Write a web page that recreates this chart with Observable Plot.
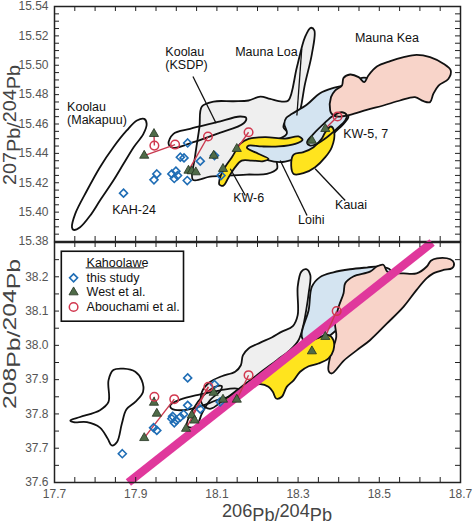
<!DOCTYPE html>
<html><head><meta charset="utf-8">
<script src="https://cdn.jsdelivr.net/npm/d3@7"></script>
<script src="https://cdn.jsdelivr.net/npm/@observablehq/plot@0.6"></script>
<style>
body{margin:0;background:#fff;}
#chart svg{display:block;}
</style></head><body><div id="chart"></div>
<script>
// ---------- tick labels ----------
const xTickLabels = [17.7, 17.9, 18.1, 18.3, 18.5, 18.7];
const yTickLabelsTop = [15.38, 15.40, 15.42, 15.44, 15.46, 15.48, 15.50, 15.52, 15.54];
const yTickLabelsBottom = [37.6, 37.7, 37.8, 37.9, 38.0, 38.1, 38.2];

// ---------- Kahoolawe samples, top panel (206Pb/204Pb, 207Pb/204Pb) ----------
const thisStudyTop = [[17.870,15.4129],[17.945,15.4220],[17.952,15.4260],[17.989,15.4260],[17.999,15.4279],[18.003,15.4249],[17.995,15.4229],[18.010,15.4374],[18.019,15.4369],[18.028,15.4471],[18.027,15.4215],[18.059,15.4347],[18.094,15.4385],[18.110,15.4249]];
const westTop = [[17.921,15.4385],[17.945,15.4533],[18.030,15.4283],[18.038,15.4279],[18.048,15.4272],[18.092,15.4385],[18.115,15.4295],[18.149,15.4431],[18.334,15.4487],[18.367,15.4567]];
const abouchamiTop = [[17.946,15.4453],[17.997,15.4460],[18.078,15.4515],[18.178,15.4544],[18.397,15.4651]];
const pairsTop = [[17.921,15.4385,17.997,15.4460],[17.945,15.4533,17.946,15.4453],[18.030,15.4283,18.078,15.4515],[18.149,15.4431,18.178,15.4544],[18.367,15.4567,18.397,15.4651]];

// ---------- Kahoolawe samples, bottom panel (206Pb/204Pb, 208Pb/204Pb) ----------
const thisStudyBottom = [[17.867,37.684],[17.944,37.760],[17.952,37.752],[17.989,37.786],[18.000,37.781],[18.010,37.791],[17.995,37.774],[18.018,37.799],[18.028,37.825],[18.028,37.905],[18.059,37.814],[18.094,37.886],[18.108,37.835],[17.991,37.793]];
const westBottom = [[17.921,37.730],[17.945,37.833],[17.952,37.801],[18.024,37.757],[18.038,37.796],[18.045,37.781],[18.092,37.862],[18.115,37.842],[18.149,37.842],[18.334,37.983],[18.367,38.025]];
const abouchamiBottom = [[17.946,37.850],[17.995,37.843],[18.079,37.879],[18.178,37.913],[18.395,38.100]];
const pairsBottom = [[17.921,37.730,17.995,37.843],[17.945,37.833,17.946,37.850],[18.024,37.757,18.079,37.879],[18.038,37.796,18.079,37.879],[18.149,37.842,18.178,37.913],[18.367,38.025,18.395,38.100]];

// ---------- fields, top panel ----------
const makapuuTop = [[17.743,15.3897],[17.751,15.3988],[17.780,15.4147],[17.812,15.4306],[17.845,15.4442],[17.878,15.4556],[17.903,15.4624],[17.921,15.4635],[17.927,15.4601],[17.919,15.4533],[17.895,15.4442],[17.870,15.4329],[17.845,15.4215],[17.812,15.4079],[17.788,15.3977],[17.763,15.3897],[17.747,15.3879]];
const maunaLoaTop = [[18.041,15.4220],[18.046,15.4374],[18.057,15.4578],[18.063,15.4719],[18.092,15.4753],[18.141,15.4755],[18.178,15.4760],[18.207,15.4787],[18.231,15.4771],[18.260,15.4753],[18.276,15.4760],[18.297,15.4987],[18.317,15.5191],[18.331,15.5255],[18.340,15.5237],[18.334,15.5078],[18.317,15.4873],[18.301,15.4658],[18.289,15.4624],[18.272,15.4624],[18.264,15.4578],[18.289,15.4510],[18.289,15.4442],[18.248,15.4374],[18.248,15.4295],[18.223,15.4260],[18.174,15.4256],[18.124,15.4249],[18.083,15.4242]];
const ksdpTop = [[17.981,15.4465],[17.993,15.4533],[18.034,15.4567],[18.100,15.4612],[18.157,15.4651],[18.172,15.4642],[18.166,15.4605],[18.100,15.4533],[18.042,15.4476],[17.993,15.4438]];
const loihiTop = [[18.161,15.4442],[18.190,15.4476],[18.239,15.4487],[18.272,15.4533],[18.266,15.4601],[18.271,15.4642],[18.285,15.4669],[18.322,15.4733],[18.354,15.4810],[18.387,15.4846],[18.428,15.4873],[18.457,15.4914],[18.473,15.4907],[18.482,15.4862],[18.436,15.4760],[18.412,15.4703],[18.424,15.4651],[18.412,15.4601],[18.387,15.4533],[18.363,15.4442],[18.305,15.4378],[18.285,15.4356],[18.256,15.4340],[18.223,15.4356],[18.194,15.4392],[18.174,15.4419]];
const maunaKeaTop = [[18.379,15.4692],[18.381,15.4783],[18.391,15.4828],[18.408,15.4862],[18.412,15.4914],[18.428,15.4937],[18.449,15.4919],[18.463,15.4885],[18.473,15.4930],[18.494,15.4991],[18.527,15.5028],[18.560,15.5055],[18.592,15.5071],[18.625,15.5055],[18.658,15.5010],[18.676,15.4964],[18.670,15.4907],[18.646,15.4862],[18.633,15.4805],[18.625,15.4749],[18.609,15.4755],[18.588,15.4783],[18.551,15.4760],[18.510,15.4726],[18.469,15.4696],[18.428,15.4662],[18.395,15.4651],[18.383,15.4669]];
const kw6FieldTop = [[18.157,15.4465],[18.178,15.4499],[18.219,15.4510],[18.268,15.4501],[18.301,15.4515],[18.311,15.4492],[18.293,15.4465],[18.252,15.4447],[18.211,15.4447],[18.178,15.4453],[18.174,15.4438],[18.202,15.4397],[18.227,15.4363],[18.215,15.4347],[18.186,15.4351],[18.161,15.4351],[18.145,15.4306],[18.129,15.4238],[18.116,15.4181],[18.106,15.4188],[18.108,15.4238],[18.120,15.4306],[18.137,15.4374],[18.149,15.4431]];
const kauaiTop = [[18.289,15.4392],[18.313,15.4408],[18.338,15.4442],[18.358,15.4499],[18.367,15.4544],[18.381,15.4583],[18.389,15.4544],[18.383,15.4442],[18.367,15.4374],[18.342,15.4306],[18.313,15.4265],[18.289,15.4260],[18.283,15.4317]];
const kw57Top = [[18.322,15.4476],[18.330,15.4453],[18.346,15.4465],[18.371,15.4510],[18.395,15.4567],[18.416,15.4624],[18.420,15.4658],[18.408,15.4680],[18.387,15.4658],[18.363,15.4601],[18.338,15.4533]];

const leadersTop = [[18.041,15.4923,18.098,15.4605],[18.309,15.5112,18.297,15.4658],[18.133,15.4295,18.170,15.4113],[18.256,15.4351,18.322,15.3977],[18.342,15.4295,18.416,15.4079]];
const labelsTop = [
  [17.731,15.4673,"Koolau\n(Makapuu)"],
  [17.973,15.5048,"Koolau\n(KSDP)"],
  [18.145,15.5094,"Mauna Loa"],
  [18.440,15.5189,"Mauna Kea"],
  [17.842,15.4018,"KAH-24"],
  [18.140,15.4099,"KW-6"],
  [18.300,15.3949,"Loihi"],
  [18.391,15.4052,"Kauai"],
  [18.411,15.4535,"KW-5, 7"]
];

// ---------- fields, bottom panel ----------
const makapuuBottom = [[17.739,37.781],[17.763,37.791],[17.812,37.811],[17.833,37.835],[17.833,37.898],[17.845,37.928],[17.870,37.932],[17.899,37.923],[17.915,37.898],[17.918,37.864],[17.899,37.835],[17.877,37.813],[17.866,37.772],[17.854,37.718],[17.841,37.708],[17.831,37.728],[17.812,37.760],[17.780,37.776],[17.747,37.776]];
const ksdpBottomA = [[17.985,37.825],[18.010,37.842],[18.059,37.857],[18.108,37.869],[18.149,37.874],[18.159,37.867],[18.141,37.854],[18.100,37.840],[18.059,37.822],[18.018,37.811],[17.989,37.815]];
const ksdpBottomB = [[18.026,37.767],[18.042,37.815],[18.067,37.854],[18.096,37.879],[18.112,37.881],[18.108,37.867],[18.083,37.840],[18.063,37.801],[18.051,37.767],[18.036,37.760]];
const maunaLoaBottom = [[18.063,37.864],[18.083,37.893],[18.112,37.910],[18.145,37.923],[18.159,37.942],[18.164,37.971],[18.178,37.991],[18.207,38.008],[18.235,38.023],[18.260,38.040],[18.287,38.056],[18.299,38.088],[18.299,38.171],[18.308,38.215],[18.320,38.222],[18.330,38.205],[18.326,38.152],[18.320,38.103],[18.312,38.054],[18.301,38.015],[18.280,37.986],[18.248,37.957],[18.215,37.928],[18.182,37.898],[18.149,37.869],[18.116,37.840],[18.083,37.815],[18.063,37.830]];
const loihiBottom = [[18.309,38.025],[18.326,38.103],[18.334,38.171],[18.354,38.199],[18.387,38.213],[18.428,38.222],[18.469,38.227],[18.502,38.230],[18.527,38.220],[18.519,38.181],[18.461,38.113],[18.404,38.054],[18.363,38.015],[18.330,37.996]];
const maunaKeaBottom = [[18.416,38.181],[18.436,38.201],[18.477,38.215],[18.494,38.230],[18.510,38.235],[18.520,38.215],[18.560,38.210],[18.592,38.210],[18.617,38.230],[18.627,38.247],[18.642,38.254],[18.675,38.251],[18.684,38.240],[18.679,38.225],[18.658,38.220],[18.633,38.210],[18.617,38.196],[18.592,38.162],[18.560,38.113],[18.519,38.064],[18.477,38.015],[18.445,37.986],[18.412,37.955],[18.383,37.918],[18.375,37.926],[18.379,37.967],[18.394,38.025],[18.391,38.064],[18.400,38.113],[18.412,38.152]];
const kauaiBottom = [[18.116,37.840],[18.157,37.869],[18.207,37.913],[18.256,37.957],[18.305,37.996],[18.346,38.020],[18.375,38.030],[18.387,38.015],[18.387,37.986],[18.375,37.962],[18.350,37.947],[18.326,37.939],[18.305,37.923],[18.289,37.898],[18.272,37.879],[18.260,37.850],[18.246,37.845],[18.238,37.864],[18.227,37.879],[18.207,37.887],[18.182,37.879],[18.157,37.859],[18.133,37.842]];
const trendLine = [[17.882,37.600],[18.630,38.300]];

// legend (bottom panel, data units)
const legendBox = [[17.718,38.069,18.019,38.273]];
const legendRows = [
  {label:"this study", kind:"diamond", y:38.197},
  {label:"West et al.", kind:"triangle", y:38.155},
  {label:"Abouchami et al.", kind:"circle", y:38.112}
];
const legendTitle = [[17.779,38.241,"Kahoolawe"]];
const legendUnderline = [[17.778,17.922,38.226]];

// ---------- styling ----------
const W = 474, ML = 54, MR = 14;
const FONT = "'Liberation Sans', Arial, Helvetica, sans-serif";
const C = {gray:"#efefef", blue:"#d4e4f1", pink:"#f8d4c9", yellow:"#ffe41e", line:"#111",
           diamond:"#1f6db5", triFill:"#4f6b48", triStroke:"#23321f", circle:"#d2384f", red:"#c93a50", magenta:"#e0389c"};
const X = d => d[0], Y = d => d[1];
const field = (data, fill) => Plot.line(data, {x:X, y:Y, curve:"catmull-rom-closed", fill, stroke:C.line, strokeWidth:1.8, strokeLinejoin:"round"});
const xMinor = d3.range(0, 21).map(i => +(17.7 + i*0.05).toFixed(2));

function sampleMarks(ts, we, ab, pairs){
  return [
    Plot.link(pairs, {x1:d=>d[0], y1:d=>d[1], x2:d=>d[2], y2:d=>d[3], stroke:C.red, strokeWidth:1.4}),
    Plot.dot(ts, {x:X, y:Y, symbol:"diamond2", r:3.6, stroke:C.diamond, strokeWidth:1.6, fill:"none"}),
    Plot.dot(we, {x:X, y:Y, symbol:"triangle", r:3.4, fill:C.triFill, stroke:C.triStroke, strokeWidth:0.8}),
    Plot.dot(ab, {x:X, y:Y, symbol:"circle", r:4.3, stroke:C.circle, strokeWidth:1.5, fill:"none"})
  ];
}
function frameTicks(yMinor, innerH){
  const innerW = W - ML - MR;
  return [
    Plot.tickX(xMinor, {x:d=>d, insetTop: innerH - 5, stroke:"#222", strokeWidth:1}),
    Plot.tickX(xMinor, {x:d=>d, insetBottom: innerH - 5, stroke:"#222", strokeWidth:1}),
    Plot.tickY(yMinor, {y:d=>d, insetRight: innerW - 5, stroke:"#222", strokeWidth:1}),
    Plot.tickY(yMinor, {y:d=>d, insetLeft: innerW - 5, stroke:"#222", strokeWidth:1}),
    Plot.frame({stroke:"#222", strokeWidth:1.5})
  ];
}

// ---------- top panel ----------
const H1 = 242, MT1 = 6, MB1 = 1;
const yMinorTop = d3.range(0, 33).map(i => +(15.38 + i*0.005).toFixed(3));
const topPlot = Plot.plot({
  width: W, height: H1, marginLeft: ML, marginRight: MR, marginTop: MT1, marginBottom: MB1,
  style: {fontFamily: FONT, color: "#555", background: "white", overflow: "visible"},
  x: {domain: [17.7, 18.7], axis: null},
  y: {domain: [15.38, 15.54], axis: null},
  marks: [
    field(makapuuTop, "white"),
    field(maunaLoaTop, C.gray),
    field(loihiTop, C.blue),
    field(maunaKeaTop, C.pink),
    field(kw6FieldTop, C.yellow),
    field(kauaiTop, C.yellow),
    field(ksdpTop, "none"),
    field(kw57Top, "none"),
    Plot.link(leadersTop, {x1:d=>d[0], y1:d=>d[1], x2:d=>d[2], y2:d=>d[3], stroke:C.line, strokeWidth:1.3}),
    Plot.text(labelsTop, {x:X, y:Y, text:d=>d[2], textAnchor:"start", lineHeight:1.05, fontSize:12.5, fill:"#111"}),
    ...sampleMarks(thisStudyTop, westTop, abouchamiTop, pairsTop),
    ...frameTicks(yMinorTop, H1 - MT1 - MB1),
    Plot.axisY(yTickLabelsTop, {anchor:"left", tickSize:0, tickPadding:6, tickFormat:d=>d.toFixed(2), fontSize:12, label:null})
  ]
});

// ---------- bottom panel ----------
const H2 = 284, MT2 = 0, MB2 = 44;
const yMinorBottom = d3.range(0, 15).map(i => +(37.6 + i*0.05).toFixed(2));
const bottomPlot = Plot.plot({
  width: W, height: H2, marginLeft: ML, marginRight: MR, marginTop: MT2, marginBottom: MB2,
  style: {fontFamily: FONT, color: "#555", background: "white", overflow: "visible"},
  x: {domain: [17.7, 18.7]},
  y: {domain: [37.6, 38.3]},
  marks: [
    field(makapuuBottom, "none"),
    field(maunaLoaBottom, C.gray),
    field(loihiBottom, C.blue),
    field(maunaKeaBottom, C.pink),
    field(kauaiBottom, C.yellow),
    field(ksdpBottomA, "none"),
    field(ksdpBottomB, "none"),
    Plot.line(trendLine, {x:X, y:Y, stroke:C.magenta, strokeWidth:8.5, strokeLinecap:"butt"}),
    ...sampleMarks(thisStudyBottom, westBottom, abouchamiBottom, pairsBottom),
    Plot.rect(legendBox, {x1:d=>d[0], y1:d=>d[1], x2:d=>d[2], y2:d=>d[3], fill:"white", stroke:"#111", strokeWidth:1.6}),
    Plot.text(legendTitle, {x:X, y:Y, text:d=>d[2], textAnchor:"start", fontSize:12.5, fill:"#111"}),
    Plot.ruleY(legendUnderline, {x1:d=>d[0], x2:d=>d[1], y:d=>d[2], stroke:"#111", strokeWidth:1}),
    Plot.dot(legendRows.filter(d=>d.kind==="diamond"), {x:()=>17.747, y:"y", symbol:"diamond2", r:3.6, stroke:C.diamond, strokeWidth:1.6, fill:"none"}),
    Plot.dot(legendRows.filter(d=>d.kind==="triangle"), {x:()=>17.747, y:"y", symbol:"triangle", r:3.4, fill:C.triFill, stroke:C.triStroke, strokeWidth:0.8}),
    Plot.dot(legendRows.filter(d=>d.kind==="circle"), {x:()=>17.747, y:"y", symbol:"circle", r:4.3, stroke:C.circle, strokeWidth:1.5, fill:"none"}),
    Plot.text(legendRows, {x:()=>17.779, y:"y", text:"label", textAnchor:"start", fontSize:12.5, fill:"#111"}),
    ...frameTicks(yMinorBottom, H2 - MT2 - MB2),
    Plot.axisY(yTickLabelsBottom, {anchor:"left", tickSize:0, tickPadding:6, tickFormat:d=>d.toFixed(1), fontSize:12, label:null}),
    Plot.axisX(xTickLabels, {anchor:"bottom", tickSize:0, tickPadding:7, tickFormat:d=>d.toFixed(1), fontSize:12, label:null})
  ]
});

const chart = document.getElementById("chart");
chart.appendChild(topPlot);
chart.appendChild(bottomPlot);

// axis titles with raised mass numbers
function axisTitle(svg, tx, ty, rot, parts, size, len){
  const t = d3.select(svg).append("text")
    .attr("transform", `translate(${tx},${ty}) rotate(${rot})`)
    .attr("text-anchor", "middle").attr("font-size", size).attr("fill", "#444")
    .attr("font-family", FONT);
  if (len) t.attr("textLength", len).attr("lengthAdjust", "spacingAndGlyphs");
  let raised = false;
  for (const [s, up] of parts){
    const sp = t.append("tspan").text(s);
    if (up && !raised){ sp.attr("dy", -4); raised = true; }
    else if (!up && raised){ sp.attr("dy", 4); raised = false; }
  }
}
axisTitle(topPlot, 20, 125, -90, [["207",1],["Pb",0],["/",0],["204",1],["Pb",0]], 19, 120);
axisTitle(bottomPlot, 20, 92, -90, [["208",1],["Pb",0],["/",0],["204",1],["Pb",0]], 19, 150);
axisTitle(bottomPlot, 277, 279, 0, [["206",1],["Pb",0],["/",0],["204",1],["Pb",0]], 18, 110);
</script></body></html>
